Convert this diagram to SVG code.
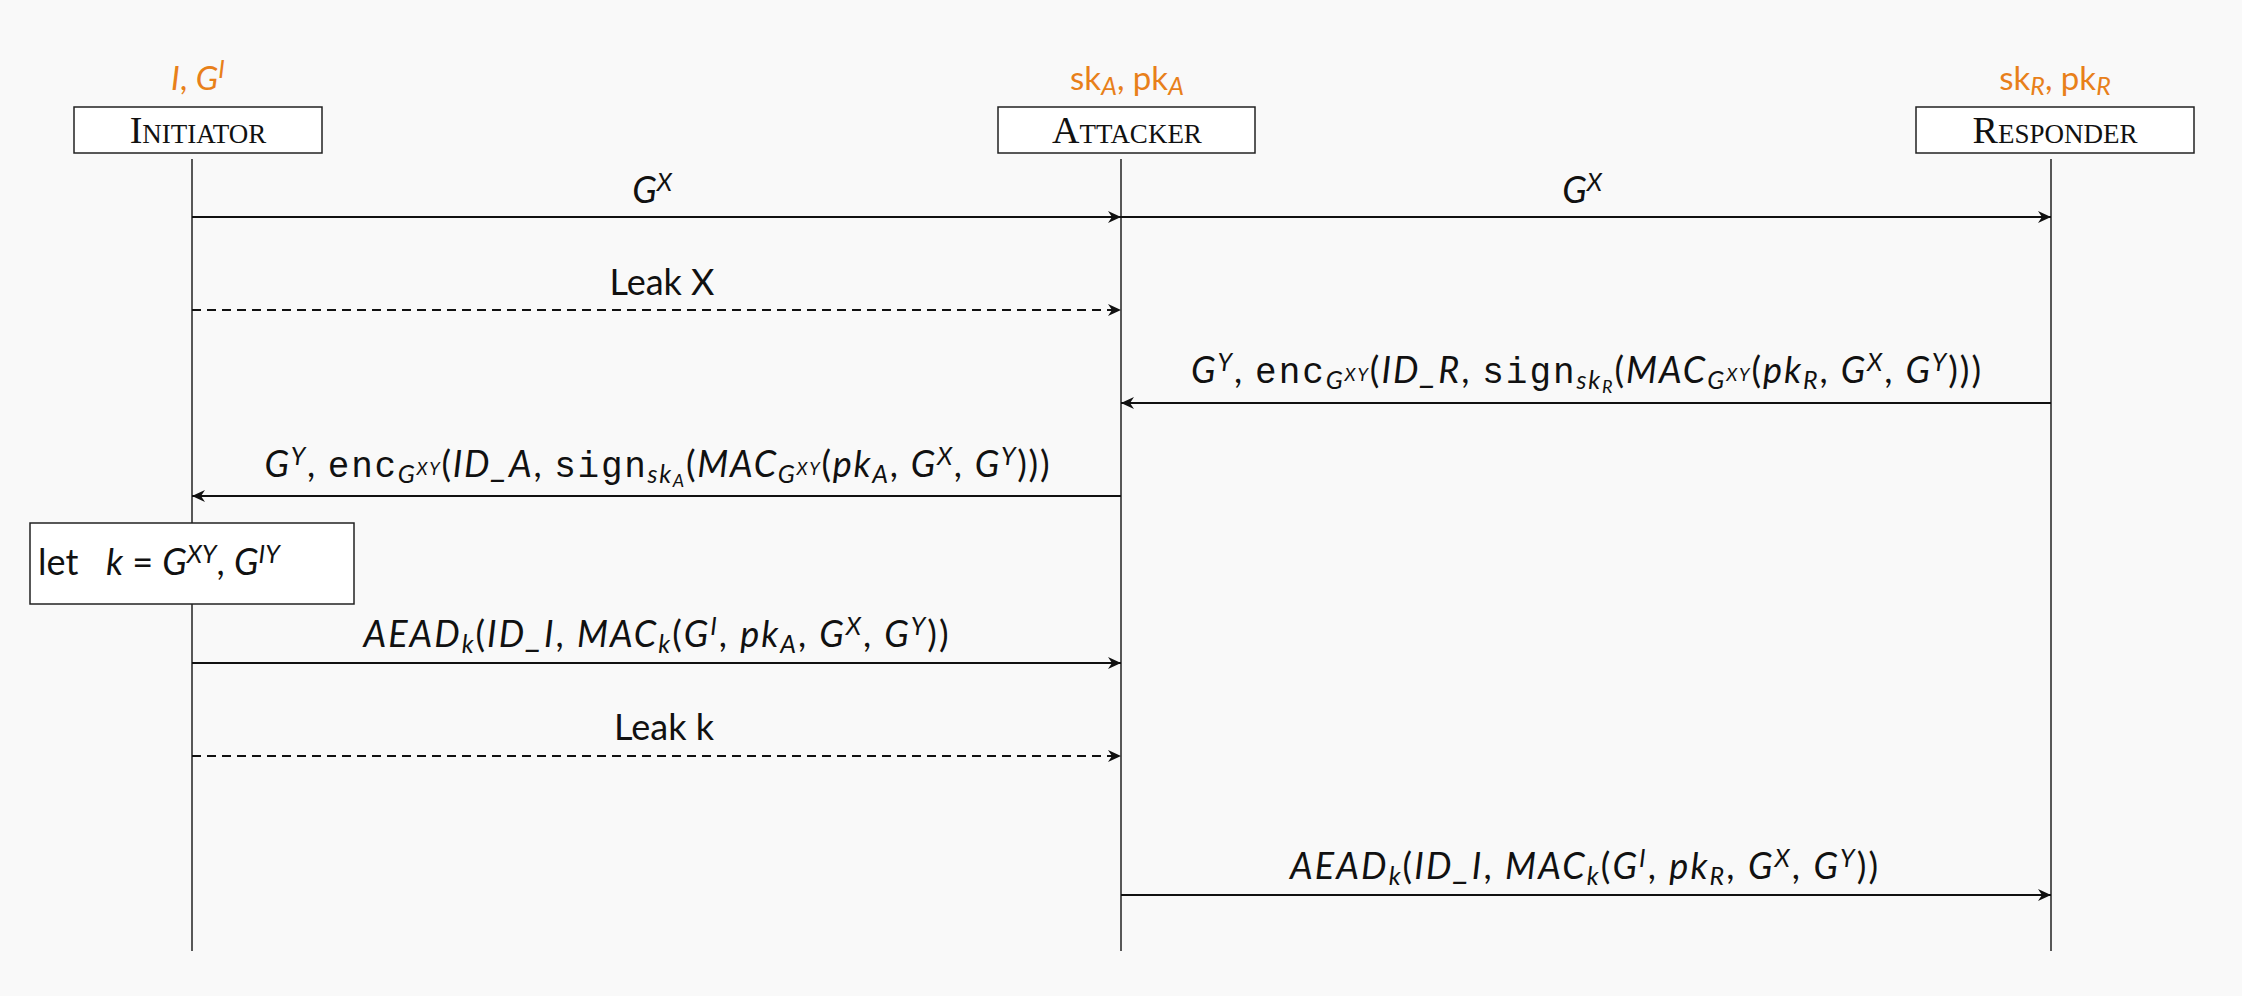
<svg xmlns="http://www.w3.org/2000/svg" width="2242" height="996" viewBox="0 0 2242 996">
<style>
.bg{fill:#f9f9f9}
.box{fill:#fff;stroke:#222;stroke-width:1.5}
.life{stroke:#222;stroke-width:1.5}
.msg{stroke:#111;stroke-width:1.8;fill:none}
.dash{stroke-dasharray:9 6}
.hd{font-family:"Liberation Serif",serif;font-variant:small-caps;font-size:38px;fill:#111;text-anchor:middle}
.or{font-family:Lato,"Open Sans",sans-serif;font-size:33px;fill:#e8801a;text-anchor:middle}
.lb{font-family:Lato,"Open Sans",sans-serif;font-size:36px;fill:#111;text-anchor:middle}
.st{text-anchor:start}
.i{font-style:italic}
.m{font-family:"Liberation Mono",monospace}
.sp{font-size:25px}
.sb{font-size:25px}
.ss{font-size:18px}
</style>
<defs>
<marker id="ah" markerWidth="14" markerHeight="12" refX="13" refY="6" orient="auto" markerUnits="userSpaceOnUse">
<path d="M0,0 L13,6 L0,12 L4,6 Z" fill="#111"/>
</marker>
</defs>
<rect class="bg" width="2242" height="996"/>
<g id="lifelines">
<line class="life" x1="192" y1="159" x2="192" y2="951"/>
<line class="life" x1="1121" y1="159" x2="1121" y2="951"/>
<line class="life" x1="2051" y1="159" x2="2051" y2="951"/>
</g>
<g id="initiator">
<text class="or" x="198" y="90"><tspan class="i">I</tspan>, <tspan class="i">G</tspan><tspan class="i sp" baseline-shift="12">I</tspan></text>
<rect class="box" x="74" y="107" width="248" height="46"/>
<text class="hd" x="198" y="143">Initiator</text>
</g>
<g id="attacker">
<text class="or" x="1127" y="90">sk<tspan class="i sb" baseline-shift="-5">A</tspan>, pk<tspan class="i sb" baseline-shift="-5">A</tspan></text>
<rect class="box" x="998" y="107" width="257" height="46"/>
<text class="hd" x="1127" y="143">Attacker</text>
</g>
<g id="responder">
<text class="or" x="2055" y="90">sk<tspan class="i sb" baseline-shift="-5">R</tspan>, pk<tspan class="i sb" baseline-shift="-5">R</tspan></text>
<rect class="box" x="1916" y="107" width="278" height="46"/>
<text class="hd" x="2055" y="143">Responder</text>
</g>
<g id="let">
<rect class="box" x="30" y="523" width="324" height="81"/>
<text class="lb st" x="38" y="575" xml:space="preserve">let   <tspan class="i">k</tspan> = <tspan class="i">G</tspan><tspan class="i sp" baseline-shift="12">XY</tspan>, <tspan class="i">G</tspan><tspan class="i sp" baseline-shift="12">IY</tspan></text>
</g>
<g id="connectors">
<line class="msg" x1="192" y1="217" x2="1121" y2="217" marker-end="url(#ah)"/>
<line class="msg" x1="1121" y1="217" x2="2051" y2="217" marker-end="url(#ah)"/>
<line class="msg dash" x1="192" y1="310" x2="1121" y2="310" marker-end="url(#ah)"/>
<line class="msg" x1="2051" y1="403" x2="1121" y2="403" marker-end="url(#ah)"/>
<line class="msg" x1="1121" y1="496" x2="192" y2="496" marker-end="url(#ah)"/>
<line class="msg" x1="192" y1="663" x2="1121" y2="663" marker-end="url(#ah)"/>
<line class="msg dash" x1="192" y1="756" x2="1121" y2="756" marker-end="url(#ah)"/>
<line class="msg" x1="1121" y1="895" x2="2051" y2="895" marker-end="url(#ah)"/>
</g>
<g id="labels">
<text class="lb" x="652" y="203"><tspan class="i">G</tspan><tspan class="i sp" baseline-shift="12">X</tspan></text>
<text class="lb" x="1582" y="203"><tspan class="i">G</tspan><tspan class="i sp" baseline-shift="12">X</tspan></text>
<text class="lb" x="662" y="295">Leak X</text>
<text class="lb" x="1586" y="383" textLength="790" lengthAdjust="spacing"><tspan class="i">G</tspan><tspan class="i sp" baseline-shift="12">Y</tspan>, <tspan class="m">enc</tspan><tspan class="i sb" baseline-shift="-6">G<tspan class="ss" baseline-shift="8">XY</tspan></tspan><tspan>(</tspan><tspan class="i">ID_R</tspan>, <tspan class="m">sign</tspan><tspan class="i sb" baseline-shift="-6">sk<tspan class="ss" baseline-shift="-4">R</tspan></tspan><tspan>(</tspan><tspan class="i">MAC</tspan><tspan class="i sb" baseline-shift="-6">G<tspan class="ss" baseline-shift="8">XY</tspan></tspan><tspan>(</tspan><tspan class="i">pk</tspan><tspan class="i sb" baseline-shift="-6">R</tspan>, <tspan class="i">G</tspan><tspan class="i sp" baseline-shift="12">X</tspan>, <tspan class="i">G</tspan><tspan class="i sp" baseline-shift="12">Y</tspan>)))</text>
<text class="lb" x="657" y="477" textLength="785" lengthAdjust="spacing"><tspan class="i">G</tspan><tspan class="i sp" baseline-shift="12">Y</tspan>, <tspan class="m">enc</tspan><tspan class="i sb" baseline-shift="-6">G<tspan class="ss" baseline-shift="8">XY</tspan></tspan><tspan>(</tspan><tspan class="i">ID_A</tspan>, <tspan class="m">sign</tspan><tspan class="i sb" baseline-shift="-6">sk<tspan class="ss" baseline-shift="-4">A</tspan></tspan><tspan>(</tspan><tspan class="i">MAC</tspan><tspan class="i sb" baseline-shift="-6">G<tspan class="ss" baseline-shift="8">XY</tspan></tspan><tspan>(</tspan><tspan class="i">pk</tspan><tspan class="i sb" baseline-shift="-6">A</tspan>, <tspan class="i">G</tspan><tspan class="i sp" baseline-shift="12">X</tspan>, <tspan class="i">G</tspan><tspan class="i sp" baseline-shift="12">Y</tspan>)))</text>
<text class="lb" x="656" y="647" textLength="585" lengthAdjust="spacing"><tspan class="i">AEAD</tspan><tspan class="i sb" baseline-shift="-6">k</tspan><tspan>(</tspan><tspan class="i">ID_I</tspan>, <tspan class="i">MAC</tspan><tspan class="i sb" baseline-shift="-6">k</tspan><tspan>(</tspan><tspan class="i">G</tspan><tspan class="i sp" baseline-shift="12">I</tspan>, <tspan class="i">pk</tspan><tspan class="i sb" baseline-shift="-6">A</tspan>, <tspan class="i">G</tspan><tspan class="i sp" baseline-shift="12">X</tspan>, <tspan class="i">G</tspan><tspan class="i sp" baseline-shift="12">Y</tspan>))</text>
<text class="lb" x="664" y="740">Leak k</text>
<text class="lb" x="1584" y="879" textLength="588" lengthAdjust="spacing"><tspan class="i">AEAD</tspan><tspan class="i sb" baseline-shift="-6">k</tspan><tspan>(</tspan><tspan class="i">ID_I</tspan>, <tspan class="i">MAC</tspan><tspan class="i sb" baseline-shift="-6">k</tspan><tspan>(</tspan><tspan class="i">G</tspan><tspan class="i sp" baseline-shift="12">I</tspan>, <tspan class="i">pk</tspan><tspan class="i sb" baseline-shift="-6">R</tspan>, <tspan class="i">G</tspan><tspan class="i sp" baseline-shift="12">X</tspan>, <tspan class="i">G</tspan><tspan class="i sp" baseline-shift="12">Y</tspan>))</text>
</g>
</svg>
